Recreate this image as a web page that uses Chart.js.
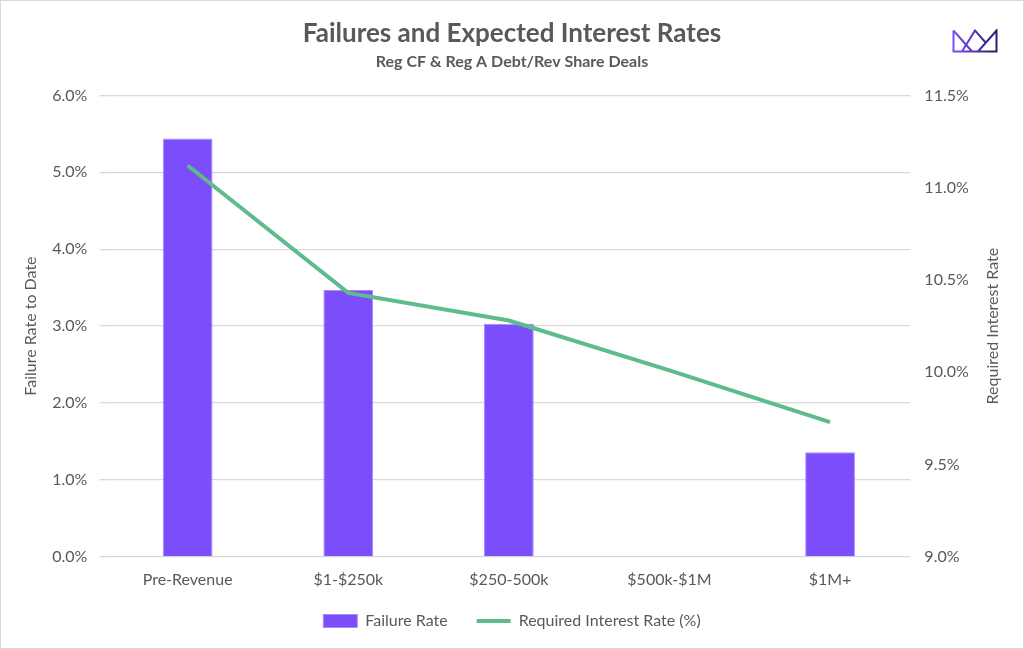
<!DOCTYPE html>
<html>
<head>
<meta charset="utf-8">
<script src="https://cdn.jsdelivr.net/npm/chart.js@4.4.1/dist/chart.umd.min.js"></script>
<style>
  html, body { margin: 0; padding: 0; background: #fff; }
  #wrap { position: relative; width: 1024px; height: 649px; }
  #logo { position: absolute; left: 952px; top: 29px; }
</style>
</head>
<body>
<div id="wrap">
  <canvas id="chart" width="1024" height="649"></canvas>
  <svg id="logo" width="46" height="24" viewBox="0 0 46 24">
    <defs>
      <linearGradient id="lg" x1="0" x2="1" y1="0" y2="0">
        <stop offset="0" stop-color="#7C4DFA"/>
        <stop offset="1" stop-color="#2A1C6B"/>
      </linearGradient>
    </defs>
    <path d="M1.5 1.5 V22.5 H44.5 V1.5 L26 22.5 M1.5 1.5 L20 22.5 M10 22.5 L23 1.5 L34 14" fill="none" stroke="url(#lg)" stroke-width="2" stroke-linejoin="miter"/>
  </svg>
</div>
<script>
// ===== Failures vs required interest rate =====
const categories = ['Pre-Revenue', '$1-$250k', '$250-500k', '$500k-$1M', '$1M+'];
const failureRate = [5.44, 3.47, 3.03, 0, 1.36];          // %
const interestRate = [11.12, 10.43, 10.28, 10.01, 9.73];  // %

const GREY = '#595959';
const FONT = 'Lato, "Liberation Sans", sans-serif';

// right axis title reads bottom-to-top like the left one, so draw it by hand
const rightTitle = {
    id: 'rightTitle',
    afterLayout(chart) {
        // pull the legend a little closer to the axis labels
        chart.legend.top -= 10;
        chart.legend.bottom -= 10;
    },
    afterDraw(chart) {
        const { ctx, chartArea } = chart;
        const s = chart.scales.y1;
        ctx.save();
        ctx.fillStyle = GREY;
        ctx.font = '16px ' + FONT;
        ctx.textAlign = 'center';
        ctx.textBaseline = 'middle';
        ctx.translate(s.right - 23, (chartArea.top + chartArea.bottom) / 2);
        ctx.rotate(-Math.PI / 2);
        ctx.fillText('Required Interest Rate', 0, 0);
        ctx.restore();
        // thin frame round the picture
        ctx.save();
        ctx.strokeStyle = '#D9D9D9';
        ctx.lineWidth = 1;
        ctx.strokeRect(0.5, 0.5, chart.width - 1, chart.height - 1);
        ctx.restore();
    }
};

new Chart(document.getElementById('chart'), {
    type: 'bar',
    data: {
        labels: categories,
        datasets: [
            {
                type: 'line',
                label: 'Required Interest Rate (%)',
                data: interestRate,
                borderColor: '#5DBB8C',
                backgroundColor: '#5DBB8C',
                borderWidth: 4,
                pointRadius: 0,
                pointStyle: 'line',
                tension: 0,
                yAxisID: 'y1',
                order: 1
            },
            {
                label: 'Failure Rate',
                data: failureRate,
                backgroundColor: '#7C4DFA',
                borderColor: '#A889FF',
                borderWidth: 1,
                pointStyle: 'rect',
                barPercentage: 0.62,
                categoryPercentage: 0.5,
                yAxisID: 'y',
                order: 2
            }
        ]
    },
    options: {
        responsive: false,
        animation: false,
        layout: { padding: { left: 8, right: 8, top: 8, bottom: 0 } },
        plugins: {
            title: {
                display: true,
                text: 'Failures and Expected Interest Rates',
                color: GREY,
                font: { family: FONT, size: 26, weight: 'bold' },
                padding: { top: 10, bottom: 3 }
            },
            subtitle: {
                display: true,
                text: 'Reg CF & Reg A Debt/Rev Share Deals',
                color: GREY,
                font: { family: FONT, size: 16, weight: 'bold' },
                padding: { bottom: 24 }
            },
            legend: {
                position: 'bottom',
                reverse: true,
                labels: {
                    color: GREY,
                    font: { family: FONT, size: 16 },
                    usePointStyle: true,
                    pointStyleWidth: 34,
                    boxHeight: 13,
                    padding: 29
                }
            },
            tooltip: { enabled: false }
        },
        scales: {
            x: {
                grid: { display: false },
                border: { display: false },
                ticks: { color: GREY, font: { family: FONT, size: 16 }, padding: 5 }
            },
            y: {
                position: 'left',
                min: 0, max: 6,
                ticks: { stepSize: 1, color: GREY, font: { family: FONT, size: 16 }, padding: 12,
                    callback: v => v.toFixed(1) + '%' },
                grid: { color: '#D9D9D9', lineWidth: 1.3 },
                border: { display: false },
                title: { display: true, text: 'Failure Rate to Date', color: GREY,
                    font: { family: FONT, size: 16 }, padding: { top: 13, bottom: 0 } }
            },
            y1: {
                position: 'right',
                min: 9, max: 11.5,
                ticks: { stepSize: 0.5, color: GREY, font: { family: FONT, size: 16 }, padding: 6,
                    callback: v => v.toFixed(1) + '%' },
                grid: { display: false },
                border: { display: false },
                // kept for spacing only; the visible text comes from the plugin
                title: { display: true, text: 'Required Interest Rate', color: 'rgba(0,0,0,0)',
                    font: { family: FONT, size: 16 }, padding: { top: 18 } }
            }
        }
    },
    plugins: [rightTitle]
});
</script>
</body>
</html>
